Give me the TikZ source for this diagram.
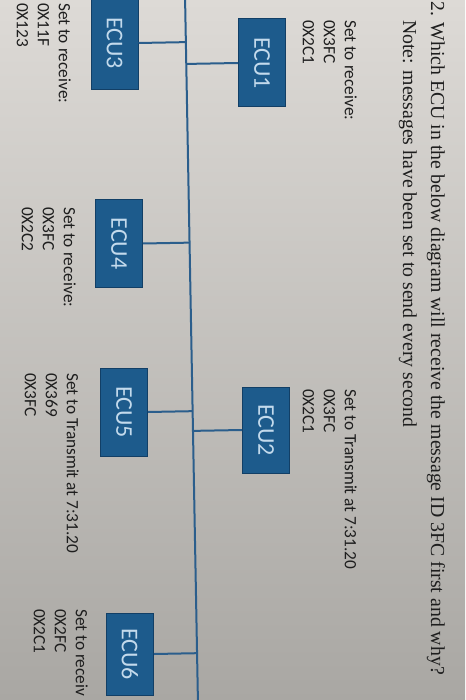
\documentclass[tikz,border=0pt]{standalone}
\usepackage{fontspec}
\usepackage{graphicx}
\setmainfont{Liberation Serif}
\newfontfamily\calib{Carlito}
\usetikzlibrary{calc}
\definecolor{boxfill}{HTML}{1D5B8C}
\definecolor{boxline}{HTML}{123F66}
\definecolor{boxtext}{HTML}{C3DAEC}
\definecolor{busblue}{HTML}{2B5E8C}
\definecolor{labeltext}{HTML}{1E1E1E}
\definecolor{bgA}{HTML}{DDDAD6}
\definecolor{bgB}{HTML}{D2CFCB}
\definecolor{bgC}{HTML}{A9A7A3}
\begin{document}
\begin{tikzpicture}[x=1pt,y=-1pt,
  ecubox/.style={draw=boxline, line width=1pt, fill=boxfill, minimum width=47pt,
    minimum height=88pt, inner sep=0pt, text=boxtext,
    font=\calib\fontsize{24}{24}\selectfont},
  lbl/.style={rotate=-90, anchor=north west, align=left, inner sep=0pt,
    text=labeltext, font=\calib\fontsize{17.3}{21}\selectfont},
  qtext/.style={rotate=-90, anchor=base west, inner sep=0pt, text=labeltext,
    font=\fontsize{19.8}{24}\selectfont},
  busline/.style={draw=busblue, line width=2pt}]
\useasboundingbox (0,0) rectangle (465,700);
\clip (0,0) rectangle (465,700);
\shade[top color=bgA, middle color=bgB, bottom color=bgC] (0,0) rectangle (465,700);
% question
\node[qtext] (q1) at (431,1) {2. Which ECU in the below diagram will receive the message ID 3FC first and why?};
\node[qtext] (q2) at (403,20) {Note: messages have been set to send every second};
% bus
\coordinate (bt) at (185,-5);
\coordinate (bb) at (198,705);
\draw[busline] (bt) -- (bb);
% ECU boxes
\node[ecubox] (e1) at (262,63) {\rotatebox{-90}{ECU1}};
\node[ecubox, minimum height=94pt] (e3) at (114.5,43) {\rotatebox{-90}{ECU3}};
\node[ecubox] (e4) at (119,243.5) {\rotatebox{-90}{ECU4}};
\node[ecubox] (e5) at (124,412) {\rotatebox{-90}{ECU5}};
\node[ecubox, minimum height=86pt] (e2) at (266,430) {\rotatebox{-90}{ECU2}};
\node[ecubox, minimum height=82pt] (e6) at (130,654) {\rotatebox{-90}{ECU6}};
% stubs
\draw[busline] (e1.west) -- ($(bt)!(e1.west)!(bb)$);
\draw[busline] (e2.west) -- ($(bt)!(e2.west)!(bb)$);
\draw[busline] (e3.east) -- ($(bt)!(e3.east)!(bb)$);
\draw[busline] (e4.east) -- ($(bt)!(e4.east)!(bb)$);
\draw[busline] (e5.east) -- ($(bt)!(e5.east)!(bb)$);
\draw[busline] (e6.east) -- ($(bt)!(e6.east)!(bb)$);
% labels
\node[lbl] (l1) at (357,20) {Set to receive:\\0X3FC\\0X2C1};
\node[lbl] (l3) at (71,3) {Set to receive:\\0X11F\\0X123};
\node[lbl] (l4) at (76,207) {Set to receive:\\0X3FC\\0X2C2};
\node[lbl] (l5) at (79,373) {Set to Transmit at 7:31.20\\0X369\\0X3FC};
\node[lbl] (l2) at (357,389) {Set to Transmit at 7:31.20\\0X3FC\\0X2C1};
\node[lbl] (l6) at (88,609) {Set to receiv\\0X2FC\\0X2C1};
\end{tikzpicture}
\end{document}
